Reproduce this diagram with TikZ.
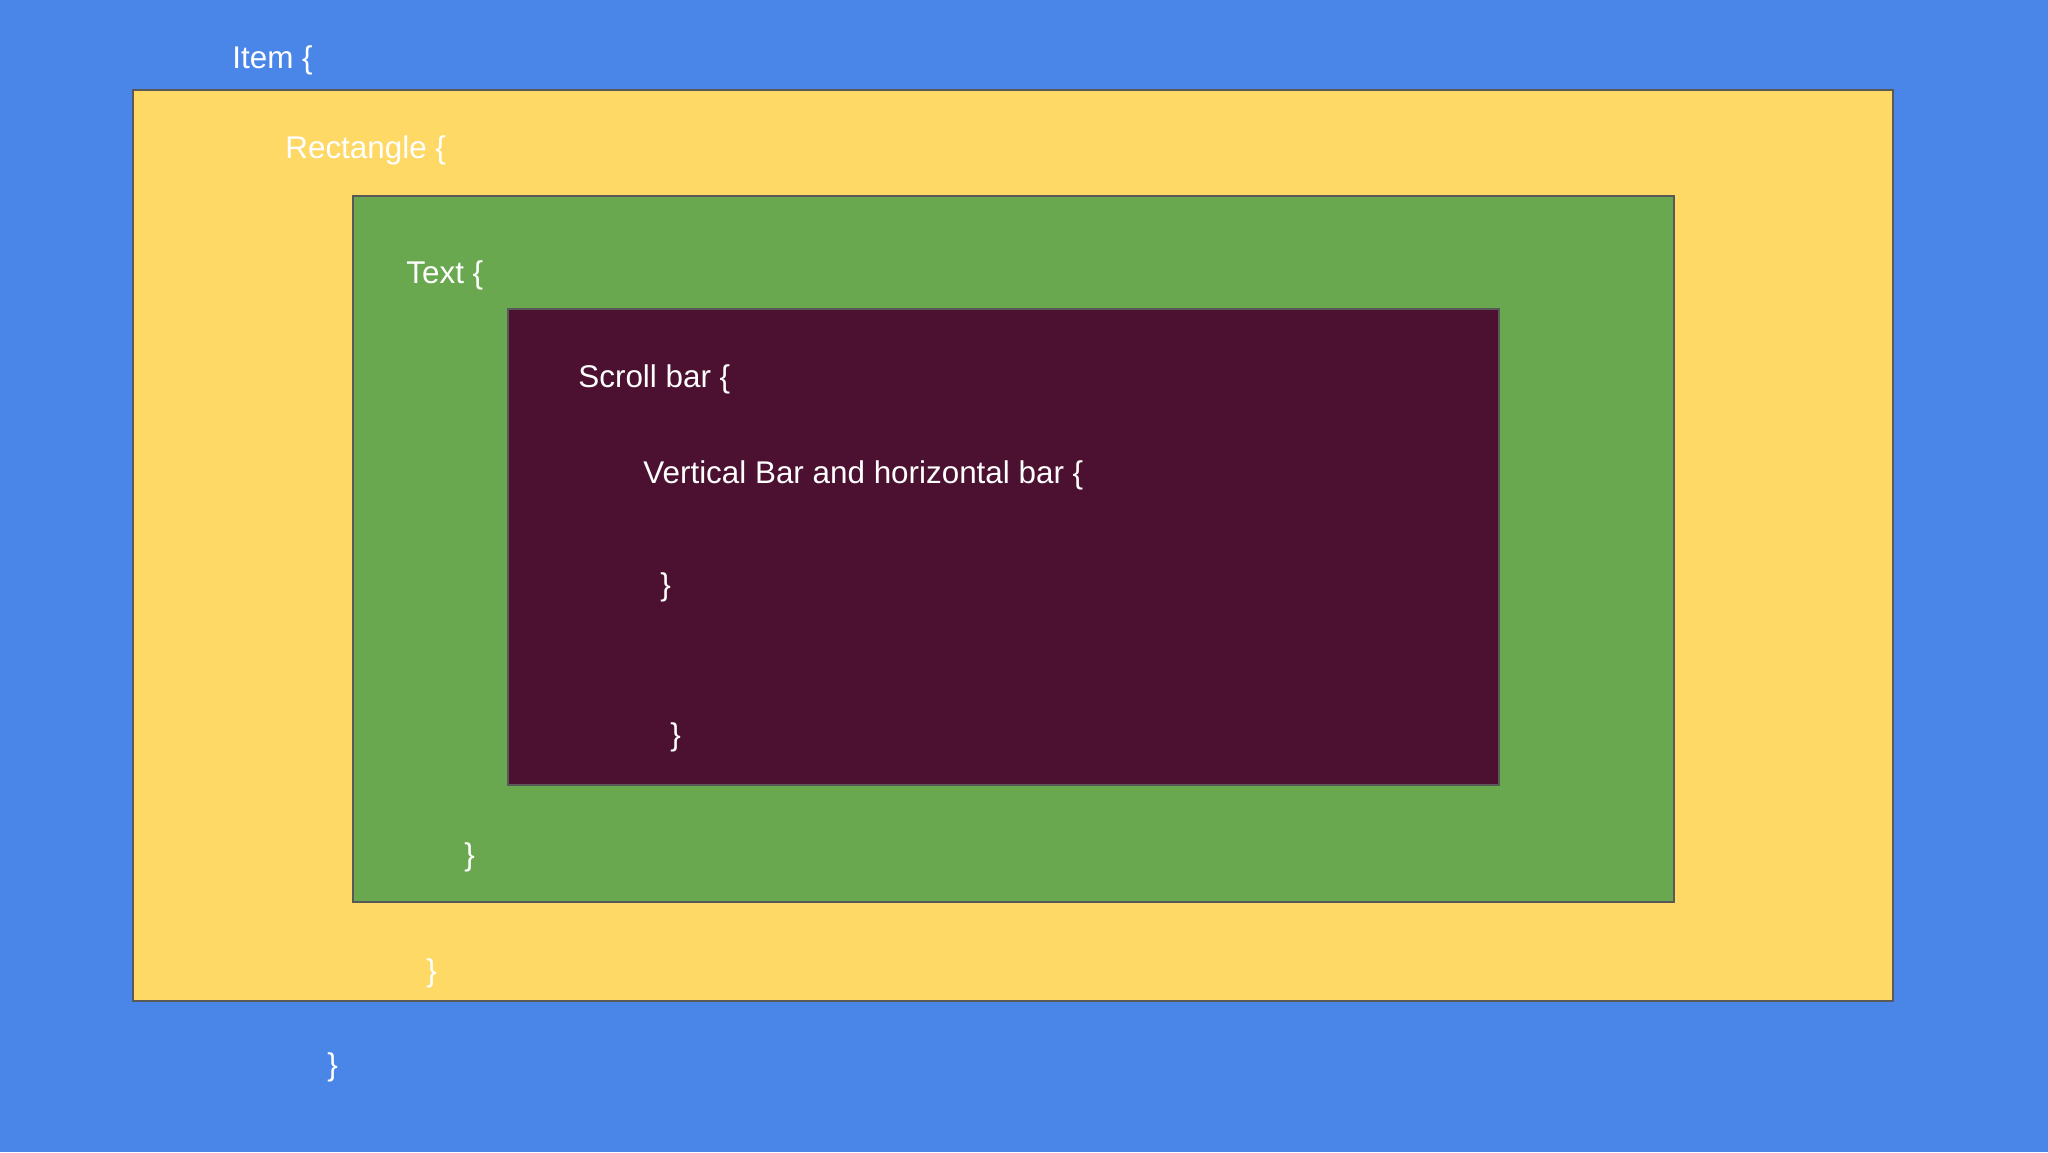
\documentclass[tikz,border=0pt]{standalone}
\usepackage{fontspec}
\setmainfont{Liberation Sans}
\usetikzlibrary{fit}
\definecolor{bgblue}{HTML}{4A86E8}
\definecolor{yel}{HTML}{FFD966}
\definecolor{grn}{HTML}{6AA84F}
\definecolor{plum}{HTML}{4C1130}
\definecolor{edge}{HTML}{595959}
\begin{document}
\begin{tikzpicture}[x=0.5pt,y=-0.5pt,
  box/.style={draw=edge, line width=1pt, inner sep=0pt, rectangle},
  lbl/.style={anchor=base west, inner sep=0pt, text=white, font=\fontsize{15.7}{18}\selectfont}]
\fill[bgblue] (0,0) rectangle (2048,1152);
\useasboundingbox (0,0) rectangle (2048,1152);
\coordinate (ya) at (133,90);  \coordinate (yb) at (1893,1001);
\coordinate (ga) at (353,196); \coordinate (gb) at (1674,902);
\coordinate (pa) at (508,309); \coordinate (pb) at (1499,785);
\node[box, fill=yel, fit=(ya)(yb)] (rectbox) {};
\node[box, fill=grn, fit=(ga)(gb)] (textbox) {};
\node[box, fill=plum, fit=(pa)(pb)] (scrollbox) {};
\node[lbl] (item) at (232,68) {Item \{};
\node[lbl] (rect) at (285,158) {Rectangle \{};
\node[lbl] (text) at (406,283) {Text \{};
\node[lbl] (scroll) at (578,387) {Scroll bar \{};
\node[lbl] (vert) at (643,483) {Vertical Bar and horizontal bar \{};
\node[lbl] (c1) at (660,595) {\}};
\node[lbl] (c2) at (670,745) {\}};
\node[lbl] (c3) at (464,865) {\}};
\node[lbl] (c4) at (426,981) {\}};
\node[lbl] (c5) at (327,1075) {\}};
\end{tikzpicture}
\end{document}
